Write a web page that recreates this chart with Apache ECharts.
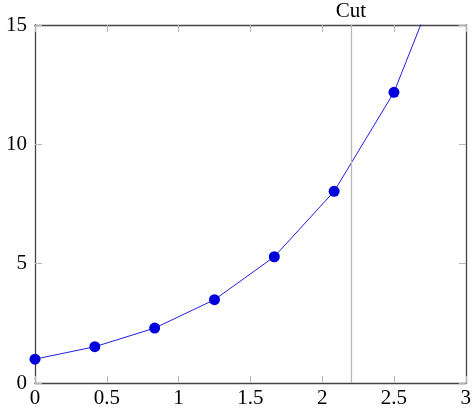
<!DOCTYPE html>
<html><head><meta charset="utf-8">
<script src="https://cdn.jsdelivr.net/npm/echarts@6/dist/echarts.min.js"></script>
<style>html,body{margin:0;padding:0;background:#fff}#c{width:474px;height:409px}</style>
</head><body><div id="c"></div>
<script>
const xValues = [0, 0.4167, 0.8333, 1.25, 1.6667, 2.0833, 2.5, 2.9167];
const yValues = [1, 1.52, 2.3, 3.49, 5.29, 8.03, 12.18, 18.5];
const cutX = 2.2;
const cutLabel = 'Cut';

const font = 'Liberation Serif';
const chart = echarts.init(document.getElementById('c'), null, {renderer: 'canvas'});
const tickStyle = {show: true, inside: true, length: 7, lineStyle: {color: '#b8b8b8', width: 1}};
const axisLine = {show: true, onZero: false, lineStyle: {color: '#444', width: 1.3}};
const common = {type: 'value', splitLine: {show: false}, axisTick: tickStyle, axisLine: axisLine};
chart.setOption({
  animation: false,
  grid: {left: 35, right: 8, top: 25, bottom: 26, containLabel: false},
  xAxis: [
    Object.assign({}, common, {min: 0, max: 3, interval: 0.5, position: 'bottom',
      axisLabel: {color: '#000', fontFamily: font, fontSize: 21, margin: 5}}),
    Object.assign({}, common, {min: 0, max: 3, interval: 0.5, position: 'top',
      axisLabel: {show: false}})
  ],
  yAxis: [
    Object.assign({}, common, {min: 0, max: 15, interval: 5, position: 'left',
      axisLabel: {color: '#000', fontFamily: font, fontSize: 21, margin: 8}}),
    Object.assign({}, common, {min: 0, max: 15, interval: 5, position: 'right',
      axisLabel: {show: false}})
  ],
  series: [{
    type: 'line',
    data: xValues.map((x, i) => [x, yValues[i]]),
    symbol: 'circle',
    symbolSize: 11,
    clip: true,
    lineStyle: {color: '#2020e0', width: 1},
    itemStyle: {color: '#0000dd'},
    markLine: {
      silent: true,
      symbol: 'none',
      lineStyle: {color: '#b8b8b8', width: 1.3, type: 'solid'},
      label: {show: true, position: 'end', formatter: cutLabel, color: '#000', fontFamily: font, fontSize: 21, distance: 3},
      data: [{xAxis: cutX}]
    }
  }]
});
</script></body></html>
